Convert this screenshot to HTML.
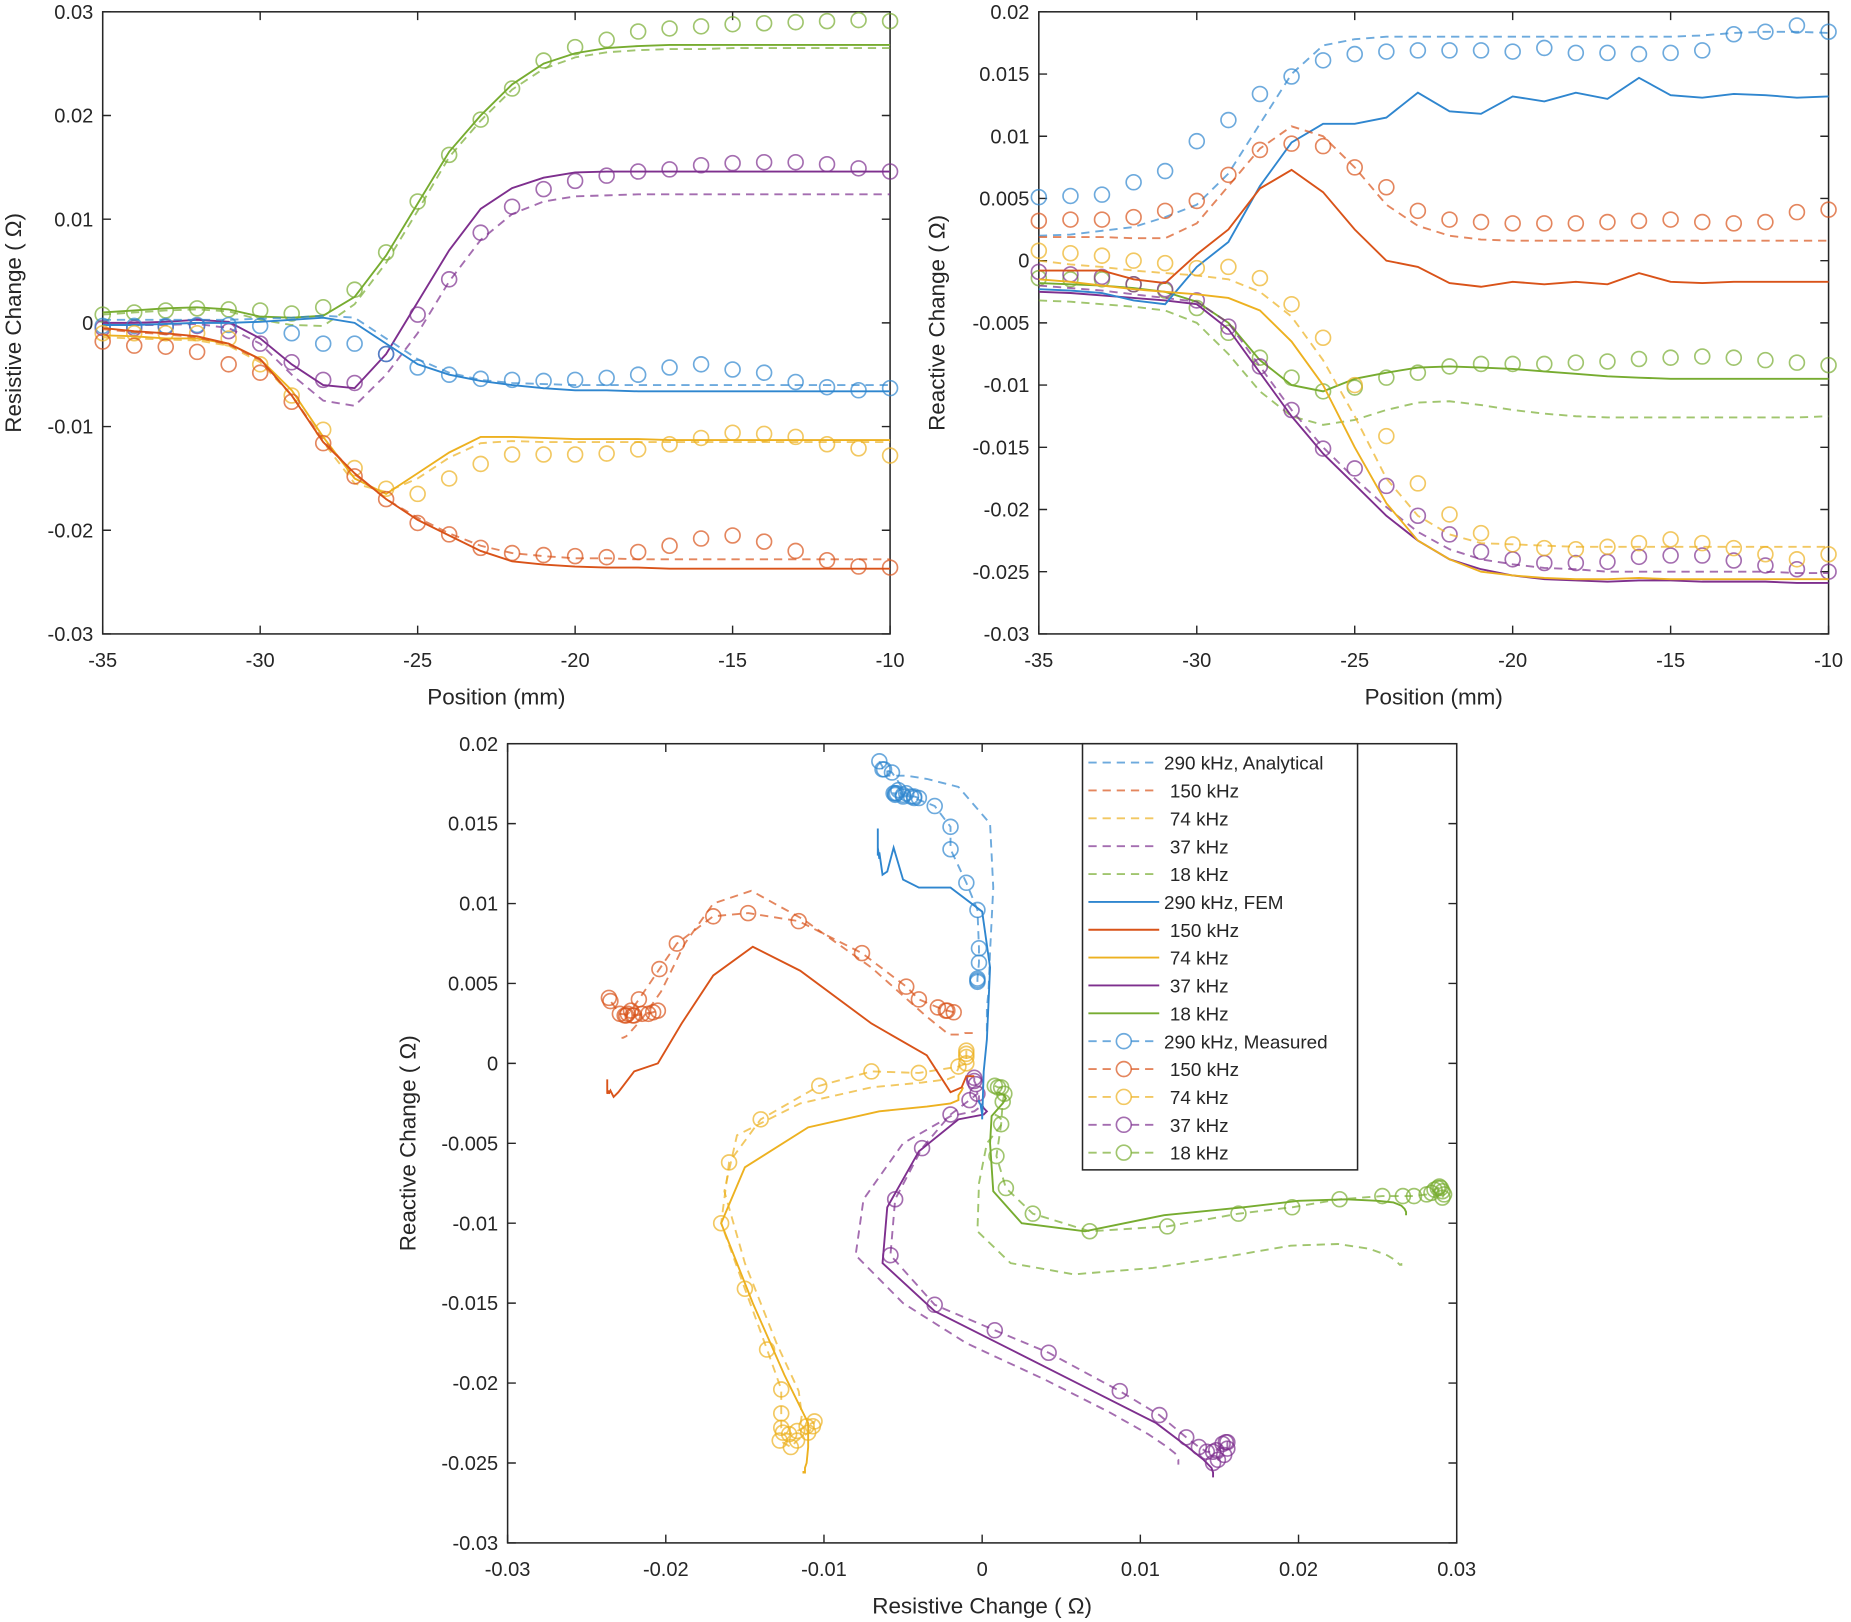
<!DOCTYPE html>
<html><head><meta charset="utf-8"><style>
html,body{margin:0;padding:0;background:#fff;}
svg{display:block;}
text{font-family:"Liberation Sans",sans-serif;fill:#262626;}
</style></head><body>
<svg id="s" width="1851" height="1622" viewBox="0 0 1568 1374" xmlns="http://www.w3.org/2000/svg"></svg>
<script>
var S=document.getElementById('s');var out='';
var C={b:'#2f86cf',r:'#D95319',y:'#EDB120',p:'#7E2F8E',g:'#77AC30'};
// data in 0.001 units, positions -35..-10
var R={
g:{f:[1,1.2,1.4,1.5,1.3,0.6,0.5,0.7,2.5,6.5,11.5,16.5,20,23,25,26,26.5,26.7,26.8,26.8,26.8,26.8,26.8,26.8,26.8,26.8],
a:[0.8,1,1.2,1.3,1.1,0.3,-0.2,-0.3,1.8,5.8,10.8,16,19.5,22.5,24.5,25.6,26.1,26.3,26.4,26.4,26.5,26.5,26.5,26.5,26.5,26.5],
m:[0.8,1.0,1.2,1.4,1.3,1.2,0.9,1.5,3.2,6.8,11.7,16.2,19.6,22.6,25.3,26.6,27.3,28.1,28.4,28.6,28.8,28.9,29,29.1,29.2,29.1]},
p:{f:[0,0,0.1,0.3,0.1,-1.5,-4,-6,-6.3,-3,2,7,11,13,14,14.5,14.6,14.6,14.6,14.6,14.6,14.6,14.6,14.6,14.6,14.6],
a:[-0.2,-0.2,-0.2,-0.1,-0.5,-2,-5,-7.5,-8,-5,-1,4,8,10.5,11.7,12.2,12.3,12.4,12.4,12.4,12.4,12.4,12.4,12.4,12.4,12.4],
m:[-0.5,-0.5,-0.4,-0.3,-0.8,-2,-3.8,-5.5,-5.8,-3,0.8,4.2,8.7,11.2,12.9,13.7,14.2,14.6,14.8,15.2,15.4,15.5,15.5,15.3,14.9,14.6]},
b:{f:[-0.2,-0.2,-0.1,0,0,0.1,0.3,0.5,0,-2,-4,-5,-5.6,-6,-6.3,-6.5,-6.5,-6.6,-6.6,-6.6,-6.6,-6.6,-6.6,-6.6,-6.6,-6.6],
a:[0.3,0.3,0.3,0.3,0.3,0.4,0.5,0.7,0.5,-1.5,-3.5,-4.8,-5.5,-5.8,-5.9,-6,-6,-6,-6,-6,-6,-6,-6,-6,-6,-6],
m:[-0.3,-0.3,-0.3,-0.2,-0.2,-0.3,-1,-2,-2,-3,-4.3,-5,-5.4,-5.5,-5.6,-5.5,-5.3,-5,-4.3,-4.0,-4.5,-4.8,-5.7,-6.2,-6.5,-6.3]},
y:{f:[-1.2,-1.3,-1.5,-1.5,-2,-3.5,-6.5,-11,-15,-16.5,-14.5,-12.5,-11,-11,-11.1,-11.2,-11.2,-11.2,-11.3,-11.3,-11.3,-11.3,-11.3,-11.3,-11.3,-11.3],
a:[-1.4,-1.5,-1.6,-1.7,-2.2,-3.8,-7,-11.5,-15.5,-16.3,-15,-13,-11.6,-11.4,-11.5,-11.5,-11.5,-11.5,-11.5,-11.5,-11.5,-11.5,-11.5,-11.5,-11.5,-11.5],
m:[-1,-1,-1,-1,-1.5,-4,-7,-10.3,-14,-16,-16.5,-15,-13.6,-12.7,-12.7,-12.7,-12.6,-12.2,-11.7,-11.1,-10.6,-10.7,-11,-11.7,-12.1,-12.8]},
r:{f:[-0.5,-0.8,-1,-1.3,-2,-3.5,-7,-11.5,-14.5,-17,-19,-20.5,-22,-23,-23.3,-23.5,-23.6,-23.6,-23.7,-23.7,-23.7,-23.7,-23.7,-23.7,-23.7,-23.7],
a:[-0.6,-0.9,-1.1,-1.4,-2.1,-3.6,-7,-11.3,-14.6,-17,-18.8,-20.3,-21.5,-22.2,-22.5,-22.7,-22.7,-22.8,-22.8,-22.8,-22.8,-22.8,-22.8,-22.8,-22.8,-22.8],
m:[-1.8,-2.2,-2.3,-2.8,-4,-4.8,-7.6,-11.6,-14.8,-17,-19.3,-20.4,-21.7,-22.2,-22.4,-22.5,-22.6,-22.1,-21.5,-20.8,-20.5,-21.1,-22,-22.9,-23.5,-23.6]}};
var X={
b:{f:[-2.3,-2.4,-2.6,-3.2,-3.5,-0.5,1.5,6,9.5,11,11,11.5,13.5,12,11.8,13.2,12.8,13.5,13,14.7,13.3,13.1,13.4,13.3,13.1,13.2],
a:[2,2.1,2.4,2.7,3.5,4.5,7,11,15,17.3,17.8,18,18,18,18,18,18,18,18,18,18,18.1,18.3,18.4,18.4,18.3],
m:[5.1,5.2,5.3,6.3,7.2,9.6,11.3,13.4,14.8,16.1,16.6,16.8,16.9,16.9,16.9,16.8,17.1,16.7,16.7,16.6,16.7,16.9,18.2,18.4,18.9,18.4]},
r:{f:[-0.8,-0.8,-0.8,-1.5,-1.8,0.5,2.5,5.8,7.3,5.5,2.5,0,-0.5,-1.8,-2.1,-1.7,-1.9,-1.7,-1.9,-1,-1.7,-1.8,-1.7,-1.7,-1.7,-1.7],
a:[1.9,1.9,1.9,1.8,1.8,3,6,9,10.8,10,7.5,4.5,2.8,2,1.7,1.6,1.6,1.6,1.6,1.6,1.6,1.6,1.6,1.6,1.6,1.6],
m:[3.2,3.3,3.3,3.5,4,4.8,6.9,8.9,9.4,9.2,7.5,5.9,4,3.3,3.1,3,3,3,3.1,3.2,3.3,3.1,3,3.1,3.9,4.1]},
y:{f:[-1.5,-1.7,-2,-2.3,-2.5,-2.7,-3,-4,-6.5,-10,-15,-19.5,-22.5,-24,-25,-25.3,-25.5,-25.6,-25.6,-25.5,-25.6,-25.6,-25.6,-25.6,-25.6,-25.6],
a:[0,-0.3,-0.5,-0.8,-1,-1.2,-1.5,-2.5,-4.5,-8,-12.5,-17.5,-20.5,-22,-22.7,-22.8,-22.9,-23,-23,-23,-23,-23,-23,-23,-23,-23],
m:[0.8,0.6,0.4,0,-0.2,-0.6,-0.5,-1.4,-3.5,-6.2,-10,-14.1,-17.9,-20.4,-21.9,-22.8,-23.1,-23.2,-23,-22.7,-22.4,-22.7,-23.1,-23.6,-24,-23.6]},
p:{f:[-2.5,-2.6,-2.8,-3,-3.2,-3.5,-5.5,-9,-12.5,-15.5,-18,-20.5,-22.5,-24,-24.8,-25.3,-25.6,-25.7,-25.8,-25.7,-25.7,-25.8,-25.8,-25.8,-25.9,-25.9],
a:[-2,-2.2,-2.4,-2.7,-3,-3.3,-5,-8.5,-12,-15,-17.5,-19.8,-21.8,-23.2,-24,-24.4,-24.7,-24.8,-25,-25,-25,-25,-25,-25,-25.1,-25.1],
m:[-0.9,-1.1,-1.3,-1.9,-2.3,-3.2,-5.3,-8.5,-12,-15.1,-16.7,-18.1,-20.5,-22,-23.4,-24,-24.3,-24.3,-24.2,-23.8,-23.7,-23.7,-24.1,-24.5,-24.8,-25]},
g:{f:[-1.8,-1.9,-2,-2.2,-2.5,-3.3,-5,-8,-10,-10.5,-9.5,-9,-8.6,-8.5,-8.6,-8.7,-8.9,-9.1,-9.3,-9.4,-9.5,-9.5,-9.5,-9.5,-9.5,-9.5],
a:[-3.2,-3.3,-3.5,-3.7,-4,-5,-7.5,-10.5,-12.5,-13.2,-12.8,-12,-11.4,-11.3,-11.6,-12,-12.3,-12.5,-12.6,-12.6,-12.6,-12.6,-12.6,-12.6,-12.6,-12.5],
m:[-1.4,-1.5,-1.5,-1.9,-2.4,-3.8,-5.8,-7.8,-9.4,-10.5,-10.2,-9.4,-9,-8.5,-8.3,-8.3,-8.3,-8.2,-8.1,-7.9,-7.8,-7.7,-7.8,-8,-8.2,-8.4]}};
function ax(L,Rr,T,B,x0,x1,y0,y1,xt,yt,xl,yl,ylx,fmtY){
 out+='<rect x="'+L+'" y="'+T+'" width="'+(Rr-L)+'" height="'+(B-T)+'" fill="none" stroke="#262626" stroke-width="1.3"/>';
 xt.forEach(function(v){var x=L+(v-x0)/(x1-x0)*(Rr-L);
  out+='<path d="M'+x+' '+B+'v-7M'+x+' '+T+'v7" stroke="#262626" stroke-width="1.2"/>';
  out+='<text x="'+x+'" y="'+(B+28)+'" font-size="17" text-anchor="middle">'+v+'</text>';});
 yt.forEach(function(v){var y=B-(v-y0)/(y1-y0)*(B-T);
  out+='<path d="M'+L+' '+y+'h7M'+Rr+' '+y+'h-7" stroke="#262626" stroke-width="1.2"/>';
  out+='<text x="'+(L-8)+'" y="'+(y+6)+'" font-size="17" text-anchor="end">'+v+'</text>';});
 out+='<text x="'+((L+Rr)/2)+'" y="'+(B+60)+'" font-size="19" text-anchor="middle">'+xl+'</text>';
 var cy=(T+B)/2;out+='<text transform="translate('+ylx+','+cy+') rotate(-90)" font-size="19" text-anchor="middle">'+yl+'</text>';
 return function(px,py){return [L+(px-x0)/(x1-x0)*(Rr-L), B-(py-y0)/(y1-y0)*(B-T)];};
}
function line(pts,col,dash,op){var d='';pts.forEach(function(p,i){d+=(i?'L':'M')+p[0].toFixed(1)+' '+p[1].toFixed(1);});
 out+='<path d="'+d+'" fill="none" stroke="'+col+'" stroke-width="1.6" stroke-opacity="'+op+'"'+(dash?' stroke-dasharray="7,5"':'')+'/>';}
function circ(pts,col){pts.forEach(function(p){out+='<circle cx="'+p[0].toFixed(1)+'" cy="'+p[1].toFixed(1)+'" r="6.3" fill="none" stroke="'+col+'" stroke-width="1.4" stroke-opacity="0.7"/>';});}
var pos=[];for(var i=-35;i<=-10;i++)pos.push(i);
var ord=['g','p','b','y','r'];
var f1=ax(87,754,10,537,-35,-10,-0.03,0.03,[-35,-30,-25,-20,-15,-10],[0.03,0.02,0.01,0,-0.01,-0.02,-0.03],'Position (mm)','Resistive Change ( Ω)',18);
ord.forEach(function(k){['a','f'].forEach(function(t){line(pos.map(function(p,i){return f1(p,R[k][t][i]/1000);}),C[k],t=='a',t=='a'?0.7:1);});
 circ(pos.map(function(p,i){return f1(p,R[k].m[i]/1000);}),C[k]);});
var f2=ax(880,1549,10,537,-35,-10,-0.03,0.02,[-35,-30,-25,-20,-15,-10],[0.02,0.015,0.01,0.005,0,-0.005,-0.01,-0.015,-0.02,-0.025,-0.03],'Position (mm)','Reactive Change ( Ω)',800);
ord.forEach(function(k){['a','f'].forEach(function(t){line(pos.map(function(p,i){return f2(p,X[k][t][i]/1000);}),C[k],t=='a',t=='a'?0.7:1);});
 circ(pos.map(function(p,i){return f2(p,X[k].m[i]/1000);}),C[k]);});
var f3=ax(430,1234,630,1307,-0.03,0.03,-0.03,0.02,[-0.03,-0.02,-0.01,0,0.01,0.02,0.03],[0.02,0.015,0.01,0.005,0,-0.005,-0.01,-0.015,-0.02,-0.025,-0.03],'Resistive Change ( Ω)','Reactive Change ( Ω)',352);
ord.forEach(function(k){['a','f'].forEach(function(t){line(pos.map(function(p,i){return f3(R[k][t][i]/1000,X[k][t][i]/1000);}),C[k],t=='a',t=='a'?0.7:1);});
 var m=pos.map(function(p,i){return f3(R[k].m[i]/1000,X[k].m[i]/1000);});line(m,C[k],true,0.7);circ(m,C[k]);});
// legend
out+='<rect x="917" y="630" width="233" height="361" fill="#fff" stroke="#262626" stroke-width="1.3"/>';
var lab=['290 kHz, Analytical','150 kHz','74 kHz','37 kHz','18 kHz','290 kHz, FEM','150 kHz','74 kHz','37 kHz','18 kHz','290 kHz, Measured','150 kHz','74 kHz','37 kHz','18 kHz'];
var lc=['b','r','y','p','g'];
lab.forEach(function(t,i){var y=646+i*23.6,k=lc[i%5],g=Math.floor(i/5);
 out+='<path d="M922 '+y+'H982" stroke="'+C[k]+'" stroke-width="1.6" stroke-opacity="'+(g==1?1:0.7)+'"'+(g!=1?' stroke-dasharray="7,5"':'')+'/>';
 if(g==2)out+='<circle cx="952" cy="'+y+'" r="6.3" fill="#fff" stroke="'+C[k]+'" stroke-width="1.4" stroke-opacity="0.7"/>';
 out+='<text x="'+(t.indexOf(',')>0||t.length>7?986:991)+'" y="'+(y+6)+'" font-size="16">'+t+'</text>';});
S.innerHTML=out;
</script>
</body></html>
